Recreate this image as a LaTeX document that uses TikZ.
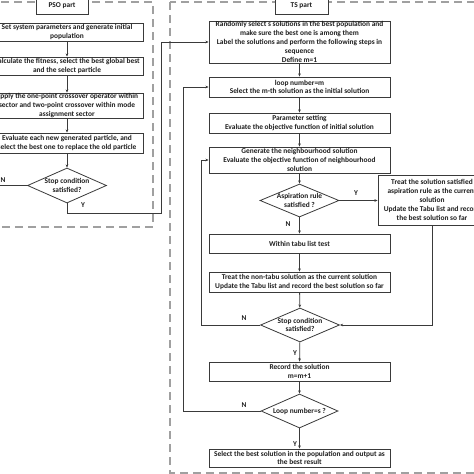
\documentclass[tikz,border=0pt]{standalone}
\usepackage{fontspec}
\setmainfont{Carlito}
\usetikzlibrary{arrows.meta,shapes.geometric}
\definecolor{linec}{HTML}{3A3A3A}
\definecolor{textc}{HTML}{1E1E1E}
\definecolor{framec}{HTML}{A0A0A0}
\tikzset{
  txt/.style={font=\fontsize{7.4}{8.8}\selectfont\bfseries, text=textc},
  box/.style={txt, draw=linec, line width=0.8pt, fill=white, align=center, inner sep=0pt},
  dia/.style={txt, diamond, draw=linec, line width=0.8pt, fill=white, align=center, inner sep=-2.5pt, aspect=2.26},
  conn/.style={draw=linec, line width=0.8pt},
  arr/.style={conn, -{Stealth[length=3.2pt,width=2.6pt]}},
  frame/.style={draw=framec, line width=1.3pt, dash pattern=on 8pt off 5pt},
  lab/.style={txt}
}
\begin{document}
\begin{tikzpicture}[x=1pt,y=-1pt]
\useasboundingbox (0,0) rectangle (474,474);
\clip (0,0) rectangle (474,474);
% frames
\draw[frame] (-20,2) rectangle (153,227);
\draw[frame] (170,2) rectangle (495,473);
\node[box, minimum width=52, minimum height=17] (psoh) at (62,5.5) {PSO part};
\node[box, minimum width=53, minimum height=17] (tsh) at (301.5,5.5) {TS part};
% PSO column
\node[box, minimum width=152, minimum height=18] (p1) at (67,32) {Set system parameters and generate initial\\population};
\node[box, minimum width=152, minimum height=18] (p2) at (67,66) {Calculate the fitness, select the best global best\\and the select particle};
\node[box, minimum width=152, minimum height=25] (p3) at (67,105.5) {Apply the one-point crossover operator within\\sector and two-point crossover within mode\\assignment sector};
\node[box, minimum width=152, minimum height=20] (p4) at (67,143) {Evaluate each new generated particle, and\\select the best one to replace the old particle};
\node[dia, minimum width=79, minimum height=35] (pd) at (67,185.5) {Stop condition\\satisfied?};
\coordinate (pn) at (-20,185.5);
\coordinate (py) at (161,213);
% TS column
\node[box, minimum width=181, minimum height=42] (t1) at (299.5,42) {Randomly select s solutions in the best population and\\make sure the best one is among them\\Label the solutions and perform the following steps in\\sequence\\Define m=1};
\node[box, minimum width=181, minimum height=20] (t2) at (299.5,87) {loop number=m\\Select the m-th solution as the initial solution};
\node[box, minimum width=181, minimum height=20] (t3) at (299.5,123) {Parameter setting\\Evaluate the objective function of initial solution};
\node[box, minimum width=181, minimum height=26] (t4) at (299.5,160) {Generate the neighbourhood solution\\Evaluate the objective function of neighbourhood\\solution};
\node[dia, minimum width=79, minimum height=33] (ad) at (299.5,200.5) {Aspiration rule\\satisfied ?};
\node[box, minimum width=108, minimum height=50] (tr) at (432,200) {Treat the solution satisfied\\aspiration rule as the current\\solution\\Update the Tabu list and record\\the best solution so far};
\node[box, minimum width=181, minimum height=19] (t5) at (299.5,243.5) {Within tabu list test};
\node[box, minimum width=181, minimum height=20] (t6) at (299.5,282) {Treat the non-tabu solution as the current solution\\Update the Tabu list and record the best solution so far};
\node[dia, minimum width=79, minimum height=34] (sd) at (300,325) {Stop condition\\satisfied?};
\node[box, minimum width=181, minimum height=19] (t7) at (299.5,371.5) {Record the solution\\m=m+1};
\node[dia, minimum width=77, minimum height=34] (ld) at (299.5,411) {Loop number=s ?};
\node[box, minimum width=181, minimum height=18] (t8) at (299.5,458) {Select the best solution in the population and output as\\the best result};
\coordinate (sn) at (201,325);
\coordinate (ln) at (183,411);
% PSO connectors
\draw[arr] (p1) -- (p2);
\draw[arr] (p2) -- (p3);
\draw[arr] (p3) -- (p4);
\draw[arr] (p4) -- (pd);
\draw[conn] (pd.west) -- (pn);
\draw[arr] (pd.south) |- (py) |- (t1.west);
\node[lab] at (3,180) {N};
\node[lab] at (83,205) {Y};
% TS connectors
\draw[arr] (t1) -- (t2);
\draw[arr] (t2) -- (t3);
\draw[arr] (t3) -- (t4);
\draw[arr] (t4) -- (ad);
\draw[arr] (ad.east) -- (tr.west |- ad.east);
\draw[arr] (ad) -- (t5);
\draw[arr] (t5) -- (t6);
\draw[arr] (t6) -- (sd);
\draw[arr] (tr.south) |- (sd.east);
\draw[arr] (sd.west) -- (sn) |- (t4.west);
\draw[arr] (sd) -- (t7);
\draw[arr] (t7) -- (ld);
\draw[arr] (ld.west) -- (ln) |- (t2.west);
\draw[arr] (ld) -- (t8);
\node[lab] at (356,193) {Y};
\node[lab] at (288,224) {N};
\node[lab] at (244,318) {N};
\node[lab] at (295,353) {Y};
\node[lab] at (244,405) {N};
\node[lab] at (295,444) {Y};
\end{tikzpicture}
\end{document}
